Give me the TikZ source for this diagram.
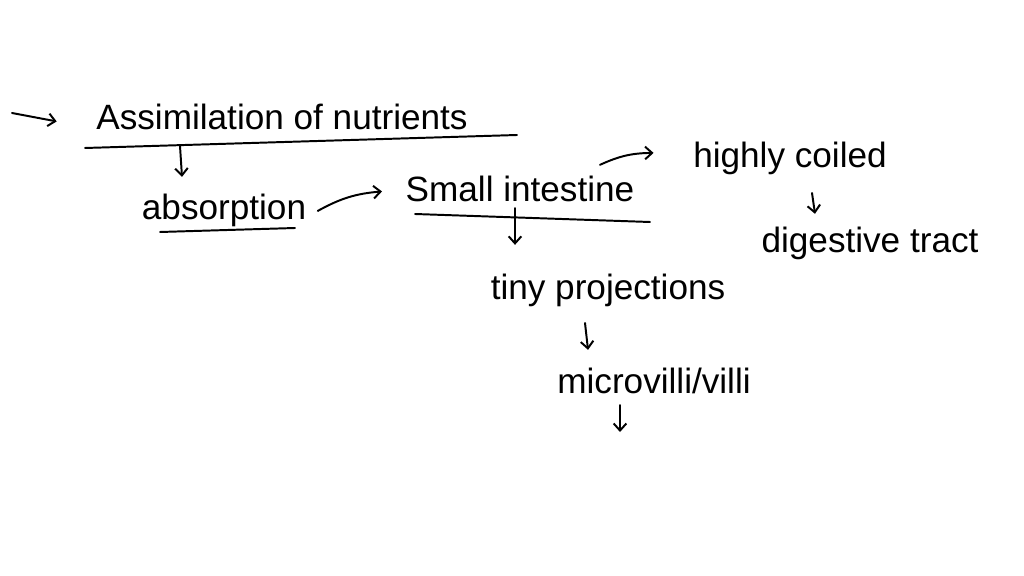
\documentclass[tikz,border=0pt]{standalone}
\usepackage{fontspec}
\setmainfont{Liberation Sans}
\usetikzlibrary{arrows.meta, calc}

\begin{document}
\begin{tikzpicture}[
    x=0.025cm, y=-0.025cm,
    every node/.style={inner sep=1pt, font=\fontsize{25}{30}\selectfont},
    note/.style={anchor=base},
    ink/.style={line width=1.4pt, line cap=round},
    every path/.append style={>={Straight Barb[length=5pt, width=9pt]}}
]
   \useasboundingbox[fill=white] (0,0) rectangle (1024,576);

   % Notes
   \node[note] (assim) at (282,130) {Assimilation of nutrients};
   \node[note] (absorb) at (224,220) {absorption};
   \node[note] (small) at (520,202) {Small intestine};
   \node[note] (coiled) at (790,168) {highly coiled};
   \node[note] (tract) at (870,253) {digestive tract};
   \node[note] (tiny) at (608,300) {tiny projections};
   \node[note] (villi) at (654,393) {microvilli/villi};

   % Free ends
   \coordinate (start) at (12,113);
   \coordinate (last) at (620,432);

   % Underlines
   \draw[ink] (85,148) -- (517,135);
   \draw[ink] (160,232) -- (295,228);
   \draw[ink] (415,214) -- (650,222);

   % Arrows
   \draw[ink, ->] (start) -- ($(assim.west)+(-38,4)$);
   \draw[ink, ->] (180,146) -- ($(absorb.north)+(-42,-16)$);
   \draw[ink, ->] ($(absorb.east)+(10,0)$) to[bend left=12] ($(small.west)+(-22,2)$);
   \draw[ink, ->] (515,208) -- ($(tiny.north)+(-93,-28)$);
   \draw[ink, ->] ($(small.north)+(80,-10)$) to[bend left=12] ($(coiled.west)+(-38,-6)$);
   \draw[ink, ->] ($(coiled.south)+(22,16)$) -- ($(tract.north)+(-55,-12)$);
   \draw[ink, ->] ($(tiny.south)+(-23,14)$) -- ($(villi.north)+(-66,-16)$);
   \draw[ink, ->] ($(villi.south)+(-34,10)$) -- (last);

\end{tikzpicture}
\end{document}
